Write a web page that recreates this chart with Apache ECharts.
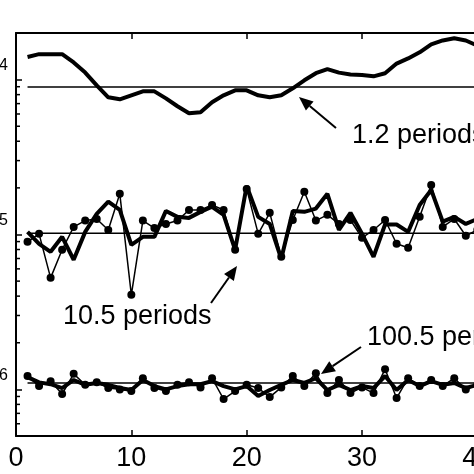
<!DOCTYPE html>
<html>
<head>
<meta charset="utf-8">
<script src="https://cdn.jsdelivr.net/npm/echarts@6/dist/echarts.min.js"></script>
<style>
  html, body { margin: 0; padding: 0; background: #fff; }
  #chart { width: 474px; height: 474px; }
</style>
</head>
<body>
<div id="chart"></div>
<script>
// x positions (sample index)
var xs = [1, 2, 3, 4, 5, 6, 7, 8, 9, 10, 11, 12, 13, 14, 15, 16, 17, 18, 19, 20,
          21, 22, 23, 24, 25, 26, 27, 28, 29, 30, 31, 32, 33, 34, 35, 36, 37, 38, 39, 40];

// 1.2 periods
var top12 = [1.40e-4, 1.46e-4, 1.46e-4, 1.46e-4, 1.29e-4, 1.11e-4, 9.19e-5, 7.69e-5, 7.46e-5, 7.92e-5,
             8.40e-5, 8.40e-5, 7.57e-5, 6.73e-5, 6.06e-5, 6.15e-5, 7.14e-5, 7.92e-5, 8.53e-5, 8.53e-5,
             7.92e-5, 7.69e-5, 7.92e-5, 8.79e-5, 9.90e-5, 1.10e-4, 1.17e-4, 1.11e-4, 1.08e-4, 1.07e-4,
             1.05e-4, 1.10e-4, 1.27e-4, 1.37e-4, 1.50e-4, 1.69e-4, 1.79e-4, 1.85e-4, 1.79e-4, 1.66e-4];

// 10.5 periods: thick line and thin line with dots
var mid105Thick = [1.04e-5, 8.71e-6, 7.73e-6, 9.66e-6, 6.87e-6, 1.04e-5, 1.36e-5, 1.63e-5, 1.44e-5, 8.58e-6,
                   9.66e-6, 9.66e-6, 1.42e-5, 1.30e-5, 1.28e-5, 1.40e-5, 1.51e-5, 1.34e-5, 7.97e-6, 2.06e-5,
                   1.30e-5, 1.17e-5, 6.97e-6, 1.42e-5, 1.40e-5, 1.47e-5, 1.83e-5, 1.07e-5, 1.38e-5, 1.01e-5,
                   7.18e-6, 1.16e-5, 1.16e-5, 1.04e-5, 1.55e-5, 1.94e-5, 1.21e-5, 1.30e-5, 1.17e-5, 1.26e-5];
var mid105Dots = [8.97e-6, 1.01e-5, 5.25e-6, 7.97e-6, 1.12e-5, 1.23e-5, 1.26e-5, 1.07e-5, 1.83e-5, 4.08e-6,
                  1.23e-5, 1.10e-5, 1.17e-5, 1.23e-5, 1.44e-5, 1.44e-5, 1.55e-5, 1.44e-5, 7.97e-6, 1.97e-5,
                  1.01e-5, 1.38e-5, 7.18e-6, 1.24e-5, 1.89e-5, 1.23e-5, 1.34e-5, 1.17e-5, 1.24e-5, 9.52e-6,
                  1.07e-5, 1.24e-5, 8.71e-6, 8.21e-6, 1.30e-5, 2.09e-5, 1.12e-5, 1.26e-5, 9.81e-6, 1.07e-5];

// 100.5 periods: thick line and thin line with dots
var bot1005Thick = [1.20e-6, 1.11e-6, 1.08e-6, 1.02e-6, 1.15e-6, 1.07e-6, 1.10e-6, 1.07e-6, 1.02e-6, 9.90e-7,
                    1.15e-6, 1.05e-6, 1.00e-6, 1.05e-6, 1.08e-6, 1.08e-6, 1.13e-6, 1.05e-6, 1.00e-6, 1.05e-6,
                    9.05e-7, 9.90e-7, 1.07e-6, 1.15e-6, 1.10e-6, 1.18e-6, 9.90e-7, 1.07e-6, 9.90e-7, 1.05e-6,
                    1.02e-6, 1.22e-6, 9.90e-7, 1.15e-6, 1.05e-6, 1.13e-6, 1.07e-6, 1.10e-6, 1.02e-6, 1.07e-6];
var bot1005Dots = [1.22e-6, 1.05e-6, 1.13e-6, 9.33e-7, 1.26e-6, 1.07e-6, 1.11e-6, 1.02e-6, 1.00e-6, 9.75e-7,
                   1.18e-6, 1.02e-6, 9.75e-7, 1.07e-6, 1.11e-6, 1.03e-6, 1.18e-6, 8.66e-7, 9.75e-7, 1.07e-6,
                   1.02e-6, 8.92e-7, 1.03e-6, 1.22e-6, 1.05e-6, 1.27e-6, 9.46e-7, 1.15e-6, 9.46e-7, 1.03e-6,
                   9.46e-7, 1.35e-6, 8.79e-7, 1.18e-6, 1.05e-6, 1.15e-6, 1.05e-6, 1.18e-6, 1.00e-6, 1.07e-6];

// horizontal reference levels
var refLevels = [8.96e-5, 1.02e-5, 1.10e-6];
var refX = [1, 45];

// log minor ticks on the left axis
var minorTicks = [6e-7, 7e-7, 8e-7, 9e-7,
                  2e-6, 3e-6, 4e-6, 5e-6, 6e-6, 7e-6, 8e-6, 9e-6,
                  2e-5, 3e-5, 4e-5, 5e-5, 6e-5, 7e-5, 8e-5, 9e-5];

function pairs(vals) {
      return xs.map(function (x, i) { return [x, vals[i]]; });
}

function arrow(x1, y1, x2, y2) {
      // line from tail (x1,y1) to tip (x2,y2) with a filled head
      var dx = x2 - x1, dy = y2 - y1;
      var len = Math.sqrt(dx * dx + dy * dy);
      var ux = dx / len, uy = dy / len;
      var hl = 14, hw = 6;
      var bx = x2 - ux * hl, by = y2 - uy * hl;
      return [
            { type: 'line', shape: { x1: x1, y1: y1, x2: bx, y2: by }, style: { stroke: '#000', lineWidth: 2 } },
            { type: 'polygon', shape: { points: [[x2, y2], [bx - uy * hw, by + ux * hw], [bx + uy * hw, by - ux * hw]] }, style: { fill: '#000' } }
      ];
}

var font = 'Liberation Sans, Arial, sans-serif';
var chart = echarts.init(document.getElementById('chart'));

var series = [
      { type: 'line', data: pairs(top12), symbol: 'none', lineStyle: { color: '#000', width: 4 } },
      { type: 'line', data: pairs(mid105Thick), symbol: 'none', lineStyle: { color: '#000', width: 4 } },
      { type: 'line', data: pairs(mid105Dots), symbol: 'circle', symbolSize: 8,
        itemStyle: { color: '#000' }, lineStyle: { color: '#000', width: 1.5 } },
      { type: 'line', data: pairs(bot1005Thick), symbol: 'none', lineStyle: { color: '#000', width: 4 } },
      { type: 'line', data: pairs(bot1005Dots), symbol: 'circle', symbolSize: 8,
        itemStyle: { color: '#000' }, lineStyle: { color: '#000', width: 1.5 } },
      {
            type: 'custom',
            data: minorTicks.map(function (v) { return [0, v]; }),
            clip: false,
            silent: true,
            renderItem: function (params, api) {
                  var p = api.coord([0, api.value(1)]);
                  return { type: 'line', shape: { x1: p[0], y1: p[1], x2: p[0] + 4, y2: p[1] },
                           style: { stroke: '#000', lineWidth: 1.5 } };
            }
      }
];
refLevels.forEach(function (v) {
      series.push({ type: 'line', data: refX.map(function (x) { return [x, v]; }), symbol: 'none',
                    lineStyle: { color: '#000', width: 1.5 }, z: 1 });
});

var graphics = [
      { type: 'text', left: 352, top: 122, style: { text: '1.2 periods', fontSize: 27, fontFamily: font, fill: '#000' } },
      { type: 'text', left: 63, top: 303, style: { text: '10.5 periods', fontSize: 27, fontFamily: font, fill: '#000' } },
      { type: 'text', left: 367, top: 324, style: { text: '100.5 periods', fontSize: 27, fontFamily: font, fill: '#000' } }
].concat(arrow(336, 128, 299, 97), arrow(211, 303, 237, 266), arrow(361, 347, 321, 374));

chart.setOption({
      animation: false,
      backgroundColor: '#fff',
      grid: { left: 16, top: 33, width: 519, height: 403, outerBoundsMode: 'none', containLabel: false },
      xAxis: [
            {
                  type: 'value', min: 0, max: 45, interval: 10,
                  axisLine: { lineStyle: { color: '#000', width: 2 } },
                  axisTick: { inside: true, length: 6, lineStyle: { color: '#000', width: 1.5 } },
                  axisLabel: { color: '#000', fontSize: 27, fontFamily: font, margin: 9 },
                  splitLine: { show: false }
            },
            {
                  type: 'value', min: 0, max: 45, interval: 10, position: 'top',
                  axisLine: { lineStyle: { color: '#000', width: 2 } },
                  axisTick: { inside: true, length: 6, lineStyle: { color: '#000', width: 1.5 } },
                  axisLabel: { show: false },
                  splitLine: { show: false }
            }
      ],
      yAxis: {
            type: 'log', logBase: 10, min: 5e-7, max: 2e-4,
            axisLine: { show: true, lineStyle: { color: '#000', width: 2 } },
            axisTick: { show: true, inside: true, length: 6, lineStyle: { color: '#000', width: 1.5 } },
            splitLine: { show: false },
            axisLabel: {
                  color: '#000', fontSize: 16, fontFamily: font, margin: 8,
                  verticalAlign: 'bottom', lineHeight: 28,
                  showMinLabel: false, showMaxLabel: false,
                  formatter: function (v) { return String(Math.round(-Math.log10(v))); }
            }
      },
      series: series,
      graphic: graphics
});
</script>
</body>
</html>
